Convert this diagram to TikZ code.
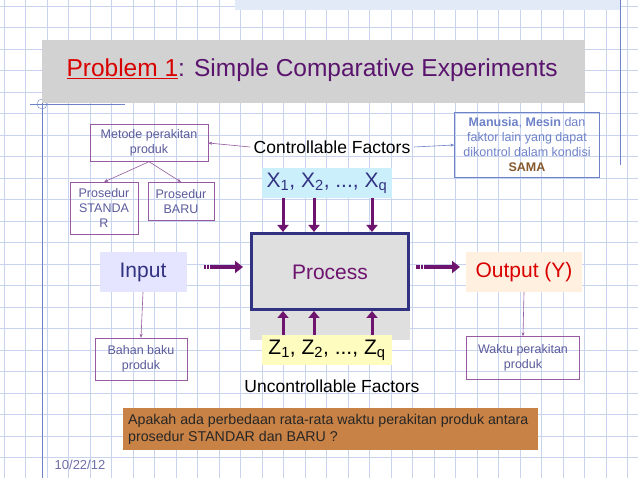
\documentclass[tikz,border=0pt]{standalone}
\usepackage{fontspec}
\setmainfont{Liberation Sans}
\usetikzlibrary{arrows.meta}
\definecolor{grid}{RGB}{200,212,238}
\definecolor{ttl}{RGB}{90,20,110}
\definecolor{pur}{RGB}{110,20,110}
\definecolor{boxl}{RGB}{150,90,160}
\definecolor{navy}{RGB}{50,50,130}
\definecolor{wood}{RGB}{200,130,70}
\definecolor{bluet}{RGB}{110,130,200}
\tikzset{
  small/.style={draw=boxl,font=\fontsize{12.5}{15}\selectfont,text=navy!80,align=center,inner sep=2pt},
  fat/.style={line width=3.5pt,draw=pur,-{Triangle[length=8pt,width=12pt]}},
  conn/.style={draw=boxl,line width=0.6pt,-{Stealth[length=4pt]}},
  big/.style={font=\fontsize{21}{24}\selectfont}
}
\begin{document}
\begin{tikzpicture}[x=1pt,y=-1pt]
\useasboundingbox (0,0) rectangle (638,478);
\fill[white] (0,0) rectangle (638,478);
\foreach \i in {0,...,30} \draw[grid,line width=0.6pt] (\i*21.5+4,0) -- (\i*21.5+4,478);
\foreach \j in {0,...,22} \draw[grid,line width=0.6pt] (0,\j*21.5+6) -- (638,\j*21.5+6);
\fill[grid!50] (235,0) rectangle (620,10);
\draw[bluet,line width=0.8pt] (620,0) -- (620,165);
\draw[bluet,line width=0.8pt] (42,97) -- (42,478);
\draw[bluet] (30,104) -- (125,104);
\draw[bluet] (42,104) circle (5);
% title
\node[fill=gray!35,minimum width=543,minimum height=63,anchor=north west] (tb) at (42,40) {};
\node[anchor=west,font=\fontsize{24.5}{28}\selectfont,text=ttl] (title) at (63,70) {\textcolor{red!85!black}{\underline{Problem 1}}: Simple Comparative Experiments};
% boxes
\node[small,minimum width=118,minimum height=37] (met) at (149,143) {Metode perakitan\\produk};
\node[font=\fontsize{17.5}{20}\selectfont] (cf) at (332,147) {Controllable Factors};
\node[draw=bluet,minimum width=145,minimum height=65,align=center,font=\fontsize{12.5}{15}\selectfont,text=bluet,inner sep=1pt] (man) at (527,145) {\textbf{Manusia}, \textbf{Mesin} dan\\faktor lain yang dapat\\dikontrol dalam kondisi\\\textcolor{brown!70!black}{\textbf{SAMA}}};
\node[small,minimum width=68,minimum height=52,anchor=north] (std) at (104,182) {Prosedur\\STANDA\\R};
\node[small,minimum width=66,minimum height=38,anchor=north] (baru) at (181,182) {Prosedur\\BARU};
\draw[conn] (met.south) -- (std.north);
\draw[conn] (met.south) -- (baru.north);
\draw[conn] (cf.west) -- (met.east);
\draw[conn,draw=bluet] (cf.east) -- (man.west);
% X Z
\node[fill=cyan!20,minimum width=130,minimum height=30,inner sep=0pt,big,text=navy] (xb) at (327,183) {X\textsubscript{1}, X\textsubscript{2}, ..., X\textsubscript{q}};
\fill[gray!25] (250,311) rectangle (410,340);
\node[draw=navy,line width=3pt,fill=gray!25,minimum width=157,minimum height=76,big,text=pur] (proc) at (330,272) {Process};
\node[fill=yellow!25,minimum width=130,minimum height=30,inner sep=0pt,big,text=black] (zb) at (327,350) {Z\textsubscript{1}, Z\textsubscript{2}, ..., Z\textsubscript{q}};
\foreach \x in {283,314,372}{
  \coordinate (xt\x) at (\x,198); \coordinate (xp\x) at (\x,232);
  \coordinate (zt\x) at (\x,335); \coordinate (zp\x) at (\x,311);
  \draw[line width=3pt,draw=pur,-{Triangle[length=7pt,width=11pt]}] (xt\x) -- (xp\x);
  \draw[line width=3pt,draw=pur,-{Triangle[length=7pt,width=11pt]}] (zt\x) -- (zp\x);
}
\node[fill=blue!10,minimum width=87,minimum height=40,big,text=navy] (in) at (143,272) {Input};
\node[fill=orange!12,minimum width=116,minimum height=40,inner sep=1pt,big,text=red!85!black] (out) at (524,272) {Output (Y)};
\coordinate (a1) at (204,267); \coordinate (a2) at (243,267);
\coordinate (b1) at (416,267); \coordinate (b2) at (460,267);
\draw[fat] (a1) -- (a2);
\draw[fat] (b1) -- (b2);
\foreach \x in {206.5,209.5,420.5,423.5} \draw[white,line width=0.8pt] (\x,264) -- (\x,270);
\node[small,minimum width=92,minimum height=42] (bb) at (141,359) {Bahan baku\\produk};
\node[small,minimum width=113,minimum height=43] (wk) at (523,358) {Waktu perakitan\\produk};
\draw[conn] (in.south) -- (bb.north);
\draw[conn] (out.south) -- (wk.north);
\node[font=\fontsize{17.5}{20}\selectfont] (uf) at (332,386) {Uncontrollable Factors};
\node[fill=wood,minimum width=415,minimum height=42,anchor=north west] (wd) at (123,408) {};
\node[anchor=west,align=left,font=\fontsize{14.2}{17}\selectfont,text=black!85,inner sep=0pt] (q) at (128,429) {Apakah ada perbedaan rata-rata waktu perakitan produk antara\\prosedur STANDAR dan BARU ?};
\node[font=\fontsize{13}{15}\selectfont,text=navy!70] (dt) at (80,465) {10/22/12};
\end{tikzpicture}
\end{document}
